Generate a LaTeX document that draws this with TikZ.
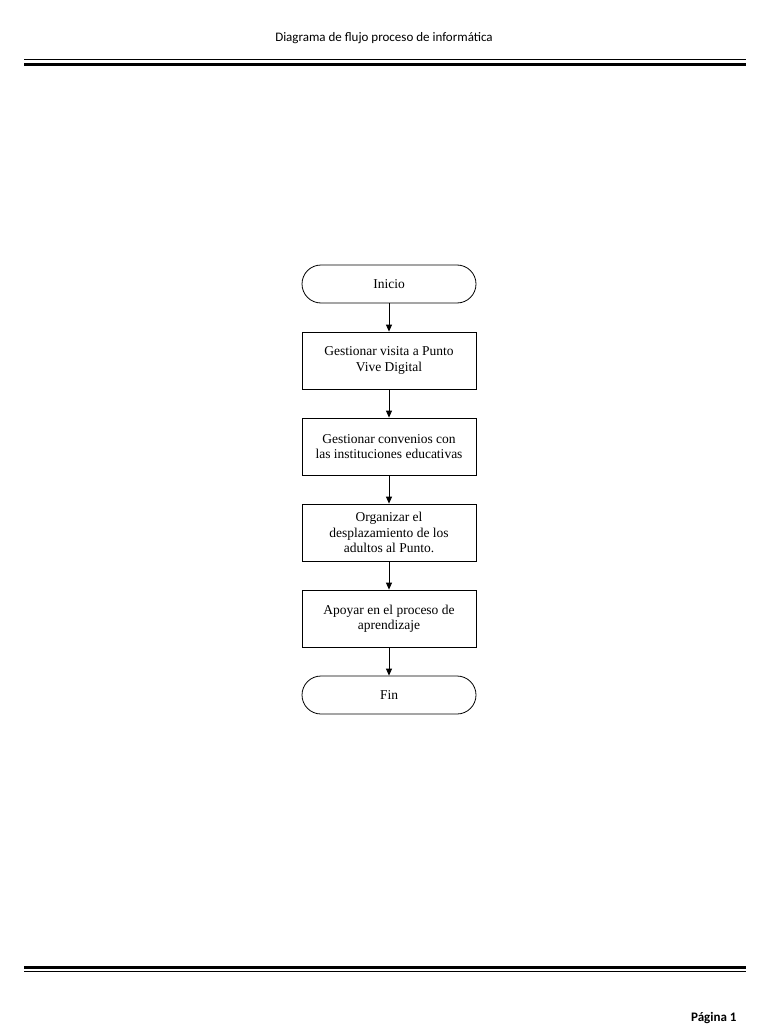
\documentclass[tikz,border=0pt]{standalone}
\usepackage{fontspec}
\setmainfont{Liberation Serif}
\newfontfamily\hdr{Carlito}
\usetikzlibrary{arrows.meta}
\begin{document}
\begin{tikzpicture}[x=1pt,y=-1pt,
  box/.style={draw,line width=0.8pt,minimum width=174pt,minimum height=57pt,align=center,font=\fontsize{13.5}{15.5}\selectfont,inner sep=1pt},
  term/.style={box,rounded corners=19pt,minimum height=38pt},
  arr/.style={-{Triangle[length=7pt,width=6pt]},line width=0.8pt}]
\useasboundingbox (0,0) rectangle (768,1024);
\node[font=\hdr\fontsize{13}{15}\selectfont] (h) at (384,38) {Diagrama de flujo proceso de informática};
\draw[line width=1pt] (24,60) -- (746,60);
\draw[line width=3pt] (24,64.5) -- (746,64.5);
\draw[line width=3pt] (24,967) -- (746,967);
\draw[line width=1pt] (24,971.5) -- (746,971.5);
\node[font=\hdr\bfseries\fontsize{13}{15}\selectfont,anchor=east] (p) at (740,1018) {Página 1};
\node[term] (a) at (389,284) {Inicio};
\node[box] (b) at (389,360.5) {Gestionar visita a Punto\\Vive Digital};
\node[box] (c) at (389,446.5) {Gestionar convenios con\\las instituciones educativas};
\node[box] (d) at (389,532.5) {Organizar el\\desplazamiento de los\\adultos al Punto.};
\node[box] (e) at (389,618.5) {Apoyar en el proceso de\\aprendizaje};
\node[term] (f) at (389,695) {Fin};
\foreach \u/\v in {a/b,b/c,c/d,d/e,e/f} \draw[arr] (\u) -- (\v);
\end{tikzpicture}
\end{document}
